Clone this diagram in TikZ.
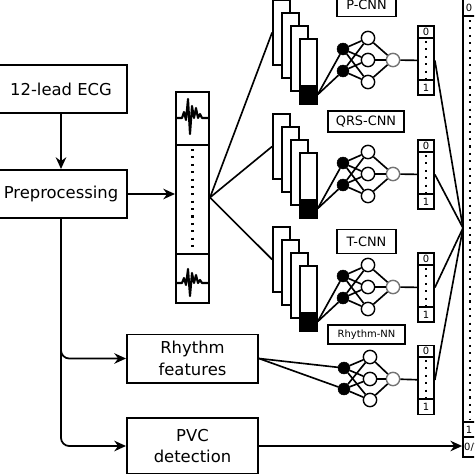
\documentclass[tikz,border=0pt]{standalone}
\usepackage{fontspec}
\setmainfont{DejaVu Sans}
\usetikzlibrary{positioning,calc}
\usetikzlibrary{arrows.meta}
\tikzset{
  blk/.style={draw=black,line width=1.7pt,fill=white,minimum width=3.96cm,minimum height=1.44cm,
    inner sep=0pt,align=center,font=\fontsize{14}{18.5}\selectfont},
  tag/.style={draw=black,line width=1.4pt,fill=white,inner sep=0pt,minimum width=1.77cm,minimum height=0.72cm,
    font=\fontsize{11}{13}\selectfont},
  sigbox/.style={draw=black,line width=1.7pt,minimum width=0.99cm,minimum height=6.33cm,inner sep=0pt},
  layer/.style={draw=black,line width=1.5pt,fill=white,minimum width=0.51cm,minimum height=1.95cm,inner sep=0pt},
  kernel/.style={fill=black,minimum width=0.54cm,minimum height=0.57cm,inner sep=0pt},
  inp/.style={circle,draw=black,fill=black,minimum size=0.36cm,inner sep=0pt},
  hid/.style={circle,draw=black,line width=1.2pt,fill=white,minimum size=0.4cm,inner sep=0pt},
  outn/.style={circle,draw=black!55,line width=1.2pt,fill=white,minimum size=0.4cm,inner sep=0pt},
  vec/.style={draw=black,line width=1.5pt,minimum width=0.48cm,minimum height=2.07cm,inner sep=0pt},
  digit/.style={inner sep=0pt,font=\fontsize{8.5}{9}\selectfont},
  wire/.style={draw=black,line width=1.4pt},
  trace/.style={draw=black,line width=1.8pt,line join=round},
  dotcol/.style={draw=black,line width=1.8pt,dash pattern=on 1.8pt off 4.5pt},
  flow/.style={draw=black,line width=1.5pt,-{Stealth[length=10pt,width=9pt]}},
}

\begin{document}
\begin{tikzpicture}[x=0.03cm,y=-0.03cm]
\useasboundingbox (0,0) rectangle (474,474);
\clip (0,0) rectangle (474,474);

% input side
\node[blk] (ecg) at (61,89) {12-lead ECG};
\node[blk] (prep) at (61,194) {Preprocessing};
\node[blk,minimum width=3.93cm] (rhy) at (192.5,358.5) {Rhythm\\features};
\node[blk,minimum width=3.93cm,minimum height=1.68cm] (pvc) at (192.5,446) {PVC\\detection};
\draw[flow] (ecg) -- (prep);
\draw[flow,rounded corners=7pt] (prep.south) |- (rhy.west);
\draw[flow,rounded corners=7pt] (prep.south) |- (pvc.west);

% beat segments
\node[sigbox] (sig) at (192.5,197.5) {};
\draw[line width=1.7pt] (176,145) -- (209,145);
\draw[line width=1.7pt] (176,254) -- (209,254);
\draw[dotcol] (192.5,149) -- (192.5,252);
\draw[trace] (177,118) -- (182,118) -- (184,112) -- (186,120) -- (188,99) -- (190,134)
  -- (192,106) -- (194,118) -- (196,108) -- (198,118) -- (200,114) -- (202,118) -- (208,118);
\draw[trace,shift={(0,165)}] (177,118) -- (182,118) -- (184,113) -- (186,120) -- (188,104) -- (190,131)
  -- (192,108) -- (194,118) -- (196,110) -- (198,118) -- (200,115) -- (202,118) -- (208,118);
\draw[flow] (prep.east) -- (prep.east -| sig.west);

% merged output
\node[vec,minimum width=0.54cm,minimum height=14.01cm] (fin) at (472,223.5) {};
\draw[line width=1.5pt] (463,16) -- (481,16);
\draw[line width=1.5pt] (463,422) -- (481,422);
\draw[line width=1.5pt] (463,437) -- (481,437);
\draw[dotcol] (470,20) -- (470,420);
\node[digit] (fin-0) at (469,8) {0};
\node[digit] (fin-1) at (469,430) {1};
\node[digit,anchor=west] (fin-2) at (464,447) {0/1};
\coordinate (hub) at (463,228);

% three CNN branches
\foreach \n/\yo in {P/0,QRS/114,T/227}{
  \node[layer] (\n-1) at (281.5,\yo+32.5) {};
  \node[layer] (\n-2) at (290.5,\yo+45.5) {};
  \node[layer] (\n-3) at (299.5,\yo+58.5) {};
  \node[layer] (\n-4) at (308.5,\yo+71.5) {};
  \node[kernel] (\n-k) at (308.5,\yo+94.5) {};
  \node[inp] (\n-a) at (343,\yo+49) {};
  \node[inp] (\n-b) at (343,\yo+71) {};
  \node[hid] (\n-h1) at (368,\yo+38) {};
  \node[hid] (\n-h2) at (368,\yo+60) {};
  \node[hid] (\n-h3) at (368,\yo+82) {};
  \node[outn] (\n-o) at (393,\yo+60) {};
  \node[vec] (\n-v) at (426,\yo+60.5) {};
  \draw[line width=1.5pt] (418,\yo+38) -- (434,\yo+38);
  \draw[line width=1.5pt] (418,\yo+80) -- (434,\yo+80);
  \draw[dotcol] (426,\yo+41) -- (426,\yo+78);
  \node[digit] (\n-v0) at (426,\yo+32) {0};
  \node[digit] (\n-v1) at (426,\yo+88) {1};
  \draw[wire] (sig.east) -- (\n-1.west);
  \draw[wire] (\n-k.east) -- (\n-a);
  \draw[wire] (\n-k.east) -- (\n-b);
  \foreach \i in {a,b}
    \foreach \j in {h1,h2,h3}
      \draw[wire] (\n-\i) -- (\n-\j);
  \foreach \j in {h1,h2,h3}
    \draw[wire] (\n-\j) -- (\n-o);
  \draw[wire] (\n-o) -- (\n-v);
  \draw[wire] (\n-v.east) -- (hub);
}
\node[tag] (ptag) at (366.5,4.5) {P-CNN};
\node[tag,minimum width=2.28cm,minimum height=0.63cm] (qtag) at (366,121.5) {QRS-CNN};
\node[tag] (ttag) at (366.5,241.5) {T-CNN};

% rhythm branch
\node[tag,minimum width=2.31cm,minimum height=0.57cm,font=\fontsize{8.5}{10}\selectfont] (rtag) at (366.5,334.5) {Rhythm-NN};
\node[inp] (R-a) at (344,368) {};
\node[inp] (R-b) at (344,389) {};
\node[hid] (R-h1) at (370,357) {};
\node[hid] (R-h2) at (370,379) {};
\node[hid] (R-h3) at (370,400) {};
\node[outn] (R-o) at (393,379) {};
\node[vec] (R-v) at (426,380) {};
\draw[line width=1.5pt] (418,357) -- (434,357);
\draw[line width=1.5pt] (418,399) -- (434,399);
\draw[dotcol] (426,360) -- (426,397);
\node[digit] (R-v0) at (426,351) {0};
\node[digit] (R-v1) at (426,407) {1};
\draw[wire] (rhy.east) -- (R-a);
\draw[wire] (rhy.east) -- (R-b);
\foreach \i in {a,b}
  \foreach \j in {h1,h2,h3}
    \draw[wire] (R-\i) -- (R-\j);
\foreach \j in {h1,h2,h3}
  \draw[wire] (R-\j) -- (R-o);
\draw[wire] (R-o) -- (R-v);
\draw[wire] (R-v.east) -- (hub);

\draw[flow] (pvc.east) -- (pvc.east -| fin.west);
\end{tikzpicture}
\end{document}
